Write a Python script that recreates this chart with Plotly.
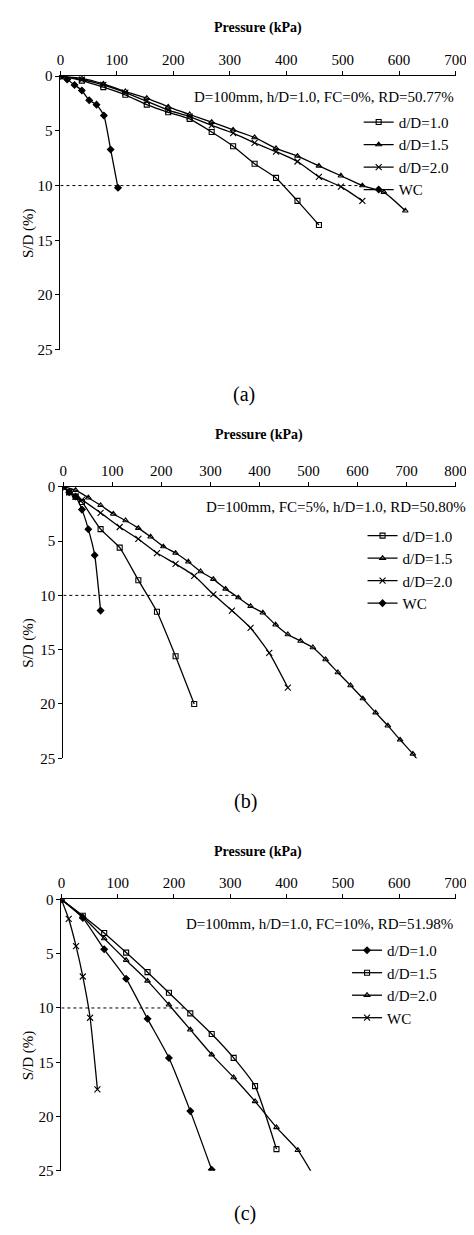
import plotly.graph_objects as go

# Panel (a)
a_d10_x = [0, 38, 76, 115, 153, 191, 229, 268, 306, 344, 382, 420, 458]
a_d10_y = [0, 0.4, 1.0, 1.7, 2.6, 3.3, 3.9, 5.1, 6.4, 8.0, 9.3, 11.4, 13.6]
a_d15_x = [0, 38, 76, 115, 153, 191, 229, 268, 306, 344, 382, 420, 458, 497, 535, 573, 611]
a_d15_y = [0, 0.2, 0.7, 1.4, 2.0, 2.8, 3.5, 4.2, 4.9, 5.6, 6.6, 7.3, 8.2, 9.1, 10.0, 10.6, 12.3]
a_d20_x = [0, 38, 76, 115, 153, 191, 229, 268, 306, 344, 382, 420, 458, 497, 535]
a_d20_y = [0, 0.3, 0.8, 1.5, 2.3, 3.1, 3.7, 4.5, 5.2, 6.1, 6.9, 7.8, 9.2, 10.1, 11.4]
a_wc_x = [0, 12, 25, 38, 51, 64, 77, 89, 102]
a_wc_y = [0, 0.3, 0.8, 1.3, 2.2, 2.6, 3.6, 6.7, 10.2]

# Panel (b)
b_d10_x = [0, 12, 25, 38, 76, 115, 153, 191, 229, 267]
b_d10_y = [0, 0.5, 0.9, 1.4, 3.9, 5.6, 8.6, 11.5, 15.6, 20.0]
b_d15_x = [0, 25, 51, 76, 102, 127, 153, 178, 204, 229, 255, 280, 306, 331, 357, 382, 407, 433,
           458, 484, 509, 535, 560, 586, 611, 637, 662, 687, 713, 727]
b_d15_y = [0, 0.3, 1.0, 1.7, 2.5, 3.1, 3.8, 4.6, 5.5, 6.1, 6.9, 7.8, 8.5, 9.4, 10.2, 11.0, 11.6, 12.7,
           13.6, 14.2, 14.8, 15.9, 17.1, 18.3, 19.5, 20.8, 22.0, 23.3, 24.6, 25.4]
b_d20_x = [0, 12, 25, 38, 76, 115, 153, 191, 229, 267, 306, 344, 382, 420, 458]
b_d20_y = [0, 0.5, 0.9, 1.2, 2.4, 3.7, 4.8, 6.1, 7.1, 8.2, 9.9, 11.4, 13.0, 15.3, 18.5]
b_wc_x = [0, 12, 25, 38, 51, 64, 76]
b_wc_y = [0, 0.5, 0.9, 2.1, 3.9, 6.3, 11.4]

# Panel (c)
c_d10_x = [0, 38, 76, 115, 153, 191, 229, 267]
c_d10_y = [0, 1.7, 4.6, 7.3, 11.0, 14.6, 19.5, 24.9]
c_d15_x = [0, 38, 76, 115, 153, 191, 229, 267, 306, 344, 382]
c_d15_y = [0, 1.5, 3.1, 4.9, 6.7, 8.6, 10.5, 12.4, 14.6, 17.2, 23.0]
c_d20_x = [0, 38, 76, 115, 153, 191, 229, 267, 306, 344, 382, 420, 446]
c_d20_y = [0, 1.6, 3.6, 5.6, 7.5, 9.7, 12.0, 14.3, 16.4, 18.6, 21.0, 23.1, 25.3]
c_wc_x = [0, 13, 26, 38, 51, 64]
c_wc_y = [0, 1.8, 4.3, 7.1, 10.9, 17.5]

ref_line_end = [535, 355, 218]
x_max = [700, 800, 700]
x_dtick = [100, 100, 100]
infos = ["D=100mm, h/D=1.0, FC=0%, RD=50.77%",
         "D=100mm, FC=5%, h/D=1.0, RD=50.80%",
         "D=100mm, h/D=1.0, FC=10%, RD=51.98%"]
panel_labels = ["(a)", "(b)", "(c)"]

FONT = "Liberation Serif"
H, W = 1235, 474
ypix = [(61, 338), (477, 752), (895, 1170)]
xpix = [(50, 458), (53, 458), (51, 458)]
legpos = [(358, 91), (362, 510), (346, 930)]
infopos = [(322, 82), (335, 497), (318, 920)]
labpos = [383, 796, 1213]
titlepos = [12, 425, 847]

sym = {"sq": "square-open", "tri": "triangle-up-open", "x": "x-thin-open", "dia": "diamond"}

panels = [
    [("d/D=1.0", a_d10_x, a_d10_y, "sq"), ("d/D=1.5", a_d15_x, a_d15_y, "tri"),
     ("d/D=2.0", a_d20_x, a_d20_y, "x"), ("WC", a_wc_x, a_wc_y, "dia")],
    [("d/D=1.0", b_d10_x, b_d10_y, "sq"), ("d/D=1.5", b_d15_x, b_d15_y, "tri"),
     ("d/D=2.0", b_d20_x, b_d20_y, "x"), ("WC", b_wc_x, b_wc_y, "dia")],
    [("d/D=1.0", c_d10_x, c_d10_y, "dia"), ("d/D=1.5", c_d15_x, c_d15_y, "sq"),
     ("d/D=2.0", c_d20_x, c_d20_y, "tri"), ("WC", c_wc_x, c_wc_y, "x")],
]

fig = go.Figure()
annotations = []
layout = {}
for i, series in enumerate(panels):
    n = "" if i == 0 else str(i + 1)
    xa, ya = "x" + n, "y" + n
    leg = "legend" + n
    for name, xs, ys, s in series:
        fig.add_trace(go.Scatter(
            x=xs, y=ys, name=name, xaxis=xa, yaxis=ya, legend=leg,
            mode="lines+markers",
            line=dict(color="black", width=1.3, shape="spline", smoothing=0.5),
            marker=dict(symbol=sym[s], size=5 if s != "x" else 6, color="black",
                        line=dict(color="black", width=1.1)),
        ))
    fig.add_trace(go.Scatter(x=[0, ref_line_end[i]], y=[10, 10], mode="lines", xaxis=xa, yaxis=ya,
                             showlegend=False, line=dict(color="black", width=1, dash="dot")))
    y0, y1 = ypix[i]
    x0, x1 = xpix[i]
    layout["xaxis" + n] = dict(
        domain=[x0 / W, x1 / W], anchor=ya, side="top", range=[0, x_max[i]], dtick=x_dtick[i],
        showgrid=False, zeroline=False, showline=True, linecolor="black", linewidth=1,
        ticks="outside", ticklen=4, tickcolor="black",
        tickfont=dict(family=FONT, size=15, color="black"))
    layout["yaxis" + n] = dict(
        domain=[1 - y1 / H, 1 - y0 / H], anchor=xa, range=[25, 0], dtick=5,
        showgrid=False, zeroline=False, showline=True, linecolor="black", linewidth=1,
        ticks="outside", ticklen=4, tickcolor="black",
        tickfont=dict(family=FONT, size=15, color="black"))
    layout[leg] = dict(x=legpos[i][0] / W, y=1 - legpos[i][1] / H, xanchor="left", yanchor="top",
                       bgcolor="rgba(0,0,0,0)", font=dict(family=FONT, size=15, color="black"),
                       tracegroupgap=0, itemwidth=30)
    annotations += [
        dict(text=infos[i], x=infopos[i][0] / W, y=1 - infopos[i][1] / H, xref="paper", yref="paper",
             xanchor="center", yanchor="middle",
             showarrow=False, font=dict(family=FONT, size=15, color="black")),
        dict(text=panel_labels[i], x=(x0 + x1) / 2 / W - 0.03, y=1 - labpos[i] / H, xref="paper",
             yref="paper", xanchor="center", yanchor="middle",
             showarrow=False, font=dict(family=FONT, size=20, color="black")),
        dict(text="<b>Pressure (kPa)</b>", x=(x0 + x1) / 2 / W, y=1 - titlepos[i] / H, xref="paper",
             yref="paper", xanchor="center", yanchor="middle",
             showarrow=False, font=dict(family=FONT, size=14, color="black")),
        dict(text="S/D (%)", x=17 / W, y=1 - ((y0 + y1) / 2 + 20) / H, xref="paper", yref="paper",
             xanchor="center", yanchor="middle",
             showarrow=False, textangle=-90, font=dict(family=FONT, size=15, color="black")),
    ]

fig.update_layout(width=W, height=H, margin=dict(l=0, r=0, t=0, b=0),
                  paper_bgcolor="white", plot_bgcolor="white",
                  annotations=annotations, **layout)
fig.write_html("out.html")
